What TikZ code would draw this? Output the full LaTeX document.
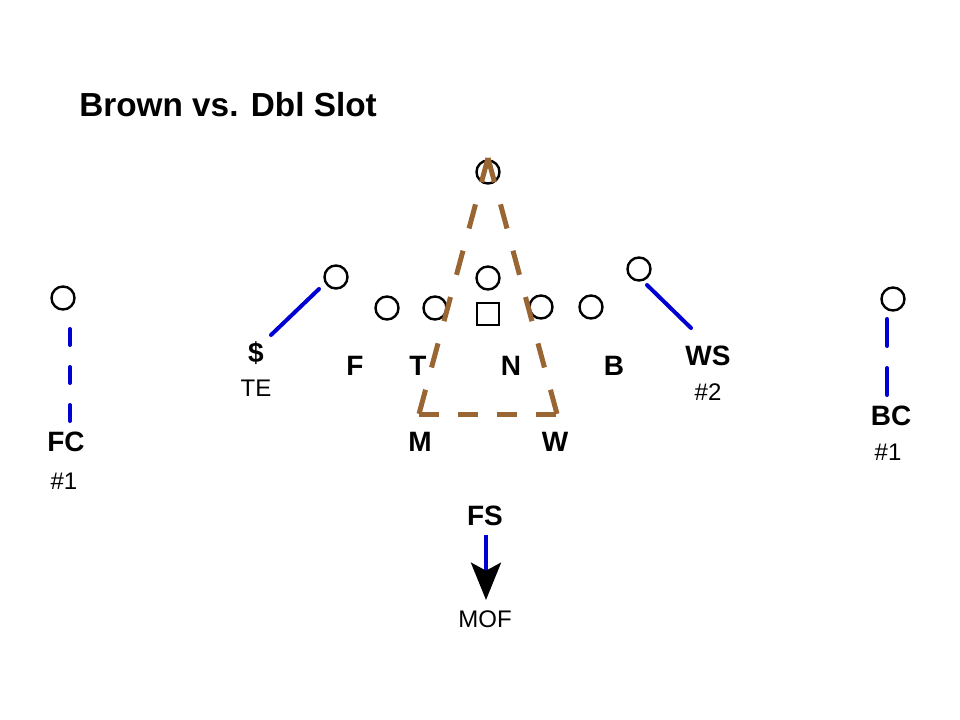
\documentclass[tikz,border=0pt]{standalone}
\usepackage{fontspec}
\setmainfont{Liberation Sans}
\usetikzlibrary{arrows.meta}
\definecolor{rblue}{RGB}{0,0,210}
\definecolor{rbrown}{RGB}{153,102,51}
\tikzset{
  player/.style={circle,draw=black,line width=1.8pt,minimum size=17.25pt,inner sep=0pt},
  center/.style={rectangle,draw=black,line width=1.8pt,minimum size=16.5pt,inner sep=0pt},
  blab/.style={font=\bfseries\fontsize{21}{21}\selectfont,inner sep=0pt},
  nlab/.style={font=\fontsize{18}{18}\selectfont,inner sep=0pt},
  route/.style={draw=rblue,line width=3pt,line cap=round},
  zone/.style={draw=rbrown,line width=3.75pt},
}
\begin{document}
\begin{tikzpicture}[x=0.75pt,y=-0.75pt]
\useasboundingbox (0,0) rectangle (960,720);
% title
\node[anchor=west,inner sep=0pt,font=\bfseries\fontsize{25}{25}\selectfont] (title) at (79,105) {Brown vs. Dbl Slot};
% players
\node[player] (pFC) at (63,298) {};
\node[player] (pTE) at (336,277) {};
\node[player] (pF) at (387,308) {};
\node[player] (pT) at (435,308) {};
\node[player] (pN) at (488,278) {};
\node[player] (pR) at (541,307) {};
\node[player] (pB) at (591,307) {};
\node[player] (pWS) at (639,269) {};
\node[player] (pBC) at (893,299) {};
\node[player] (pTop) at (488,172) {};
\node[center] (ball) at (488,314) {};
% labels
\node[blab] (lD) at (256,353) {\$};
\node[nlab] (lTE) at (256,388) {TE};
\node[blab] (lF) at (355,366) {F};
\node[blab] (lT) at (418,366) {T};
\node[blab] (lN) at (511,366) {N};
\node[blab] (lB) at (614,366) {B};
\node[blab] (lWS) at (708,356) {WS};
\node[nlab] (l2) at (708,392) {\#2};
\node[blab] (lM) at (420,442) {M};
\node[blab] (lW) at (555,442) {W};
\node[blab] (lFC) at (66,442) {FC};
\node[nlab] (l1a) at (64,481) {\#1};
\node[blab] (lBC) at (891,416) {BC};
\node[nlab] (l1b) at (888,452) {\#1};
\node[blab] (lFS) at (485,516) {FS};
\node[nlab] (lMOF) at (485,619) {MOF};
% routes
\coordinate (teA) at (271,335);
\coordinate (teB) at (319,289);
\draw[route] (teA) -- (teB);
\coordinate (wsA) at (647,285);
\coordinate (wsB) at (691,328);
\draw[route] (wsA) -- (wsB);
\coordinate (fcA) at (70,329);
\coordinate (fcB) at (70,423);
\draw[route,dash pattern=on 12pt off 16.5pt] (fcA) -- (fcB);
\coordinate (bcA) at (887,319);
\coordinate (bcB) at (887,395);
\draw[route,dash pattern=on 20.25pt off 16.5pt] (bcA) -- (bcB);
\coordinate (fsA) at (486,535);
\coordinate (fsB) at (486,600);
\draw[draw=rblue,line width=3pt,-{Stealth[black,length=28pt,width=22.5pt,inset=6pt]}] (fsA) -- (fsB);
% zone triangle
\coordinate (apex) at (488,158);
\coordinate (zl) at (419,414);
\coordinate (zr) at (557,414);
\draw[zone,dash pattern=on 18.75pt off 17.25pt] (apex) -- (zl);
\draw[zone,dash pattern=on 18.75pt off 17.25pt] (apex) -- (zr);
\draw[zone,dash pattern=on 15pt off 14.25pt] (zl) -- (zr);
\end{tikzpicture}
\end{document}
